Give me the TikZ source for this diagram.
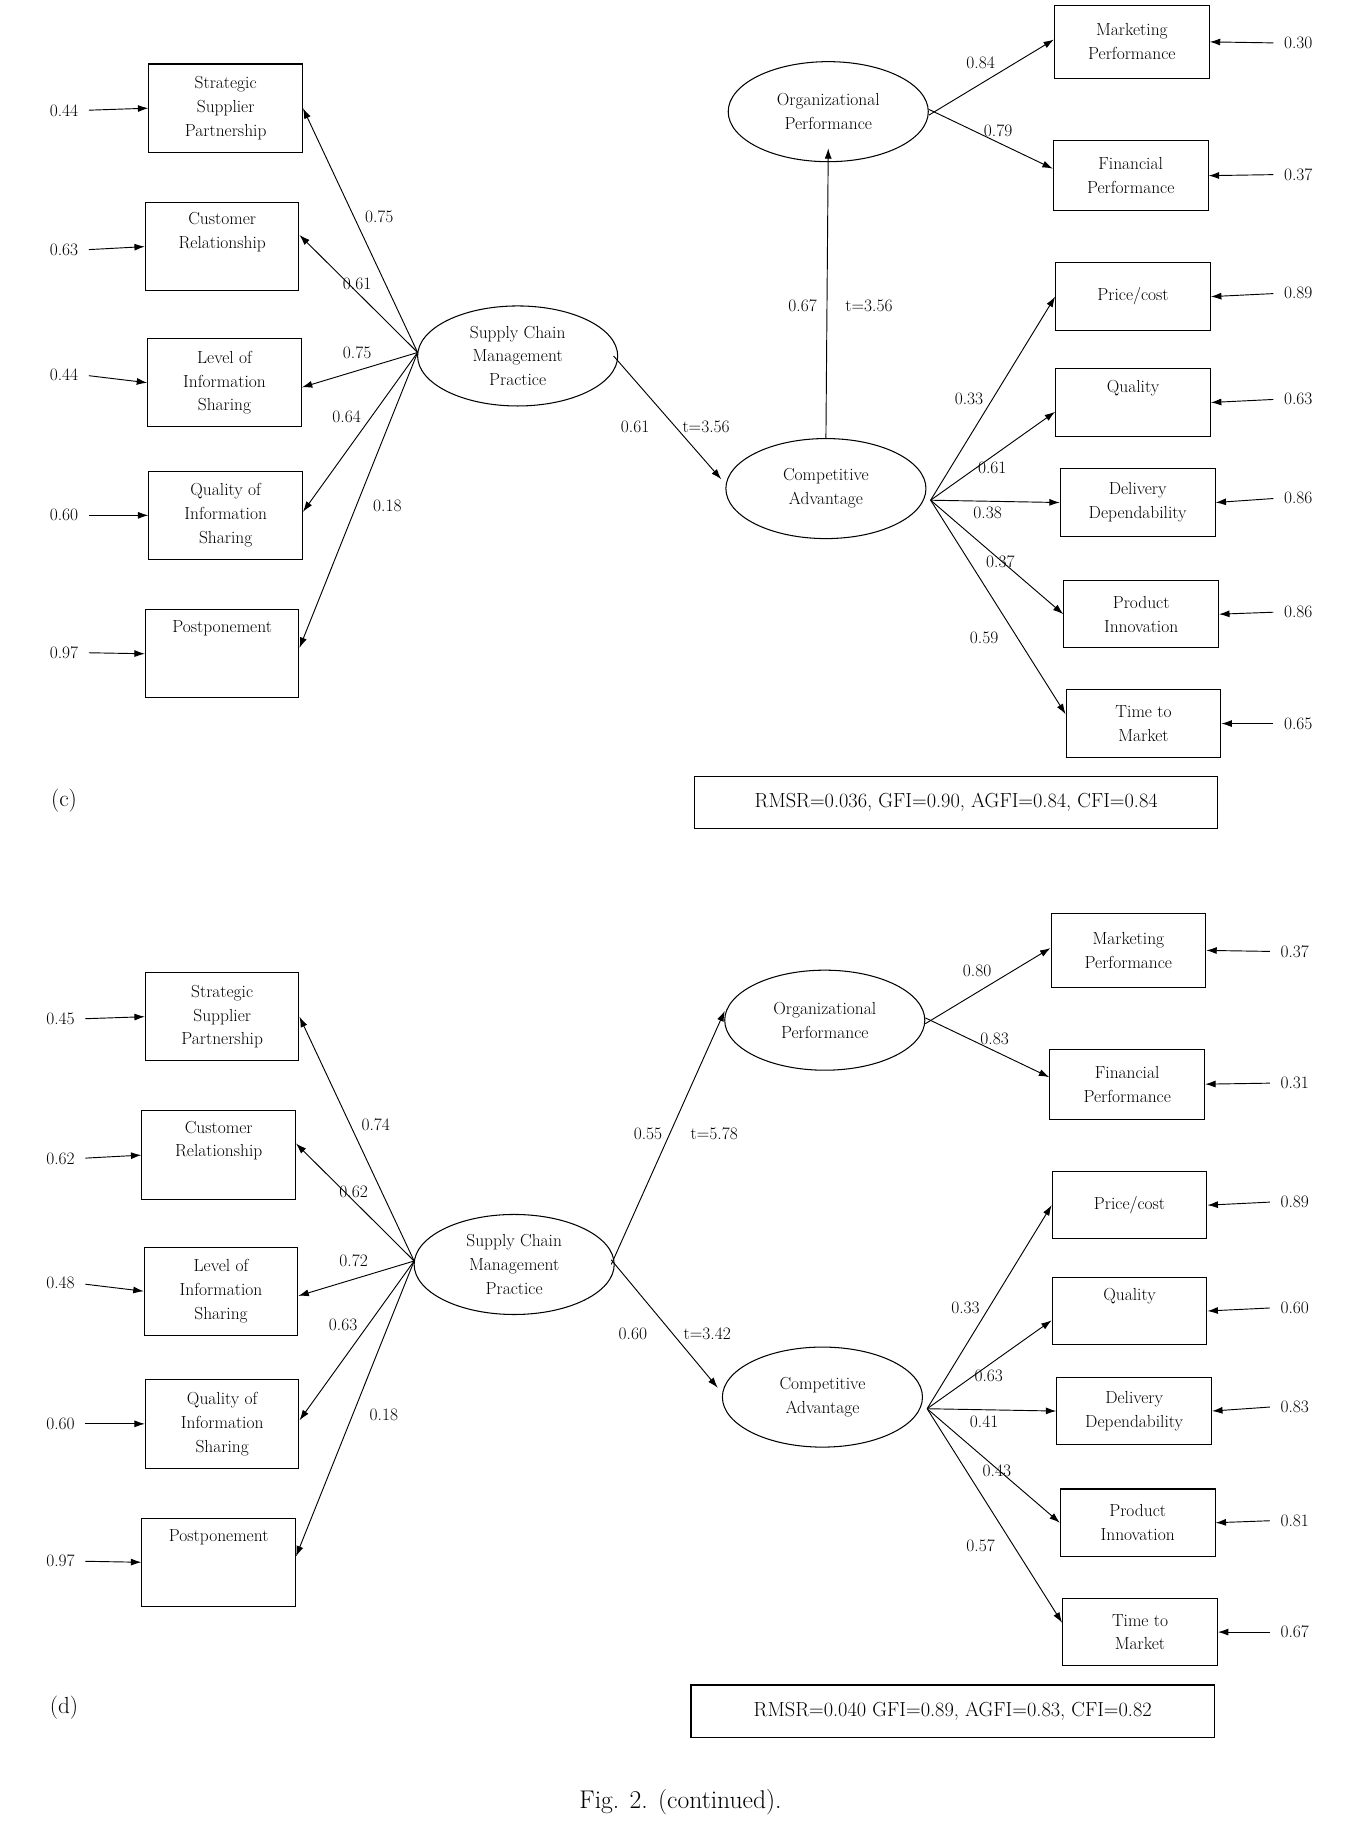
\documentclass[tikz,border=0pt]{standalone}
\usetikzlibrary{arrows.meta,shapes.geometric}
\begin{document}
\begin{tikzpicture}[x=1pt,y=-1pt,
  every node/.style={font=\fontsize{15}{20.5}\selectfont},
  box/.style={draw,line width=0.9pt,minimum width=132pt,minimum height=76pt,align=center,inner sep=1pt},
  sbox/.style={draw,line width=0.9pt,minimum width=133pt,minimum height=58pt,align=center,inner sep=1pt},
  ell/.style={draw,line width=0.9pt,ellipse,minimum width=172pt,minimum height=86pt,align=center,inner sep=0pt},
  num/.style={inner sep=1pt},
  ar/.style={-{Latex[length=9pt,width=6pt]},line width=0.8pt}]
\useasboundingbox (0,0) rectangle (1161,1568);

\newcommand{\leftside}[9]{%
  \node[box] (ssp) at (194,93) {Strategic\\Supplier\\Partnership};
  \node[box] (cr) at (191,212) {};
  \node[anchor=north,align=center] (crt) at (191,179) {Customer\\Relationship};
  \node[box] (lis) at (193,329) {Level of\\Information\\Sharing};
  \node[box] (qis) at (194,443) {Quality of\\Information\\Sharing};
  \node[box] (post) at (191,562) {};
  \node[anchor=north] (postt) at (191,530) {Postponement};
  \node[num] (e1) at (55,95) {#1};
  \node[num] (e2) at (55,215) {#2};
  \node[num] (e3) at (55,322) {#3};
  \node[num] (e4) at (55,443) {#4};
  \node[num] (e5) at (55,561) {#5};
  \foreach \e/\b in {e1/ssp,e2/cr,e3/lis,e4/qis,e5/post}{\draw[ar,shorten <=8pt] (\e.east) -- (\b.west);}
  \node[ell] (scmp) at (445,306) {Supply Chain\\Management\\Practice};
  \coordinate (sl) at (359,303);
  \draw[ar] (sl) -- (ssp.east);
  \draw[ar] (sl) -- ([yshift=10pt]cr.east);
  \draw[ar] (sl) -- ([yshift=-4pt]lis.east);
  \draw[ar] (sl) -- ([yshift=3pt]qis.east);
  \draw[ar] (sl) -- ([yshift=5pt]post.east);
  \node (l1) at (326,186) {#6};
  \node (l2) at (307,244) {#7};
  \node (l3) at (307,303) {#8};
  \node (l4) at (298,358) {#9};
}
\newcommand{\rightside}[9]{%
  \node[ell] (ca) at (710,420) {Competitive\\Advantage};
  \node[ell] (op) at (712,96) {Organizational\\Performance};
  \node[box,minimum height=63pt,minimum width=133pt] (mp) at (973,36) {Marketing\\Performance};
  \node[box,minimum height=60pt,minimum width=133pt] (fp) at (972,151) {Financial\\Performance};
  \node[sbox] (pc) at (974,255) {Price/cost};
  \node[sbox] (q) at (974,346) {};
  \node[anchor=north] (qt) at (974,323) {Quality};
  \node[sbox] (dd) at (978,432) {Delivery\\Dependability};
  \node[sbox] (pi) at (981,528) {Product\\Innovation};
  \node[sbox] (tm) at (983,622) {Time to\\Market};
  \draw[ar] ([yshift=-3pt]op.east) -- ([yshift=2pt]mp.west);
  \draw[ar] ([yshift=2pt]op.east) -- ([yshift=6pt]fp.west);
  \coordinate (cpt) at (800,430);
  \draw[ar] (cpt) -- (pc.west);
  \draw[ar] (cpt) -- ([yshift=-8pt]q.west);
  \draw[ar] (cpt) -- (dd.west);
  \draw[ar] (cpt) -- (pi.west);
  \draw[ar] (cpt) -- ([yshift=8pt]tm.west);
  \node (r1) at (843,54) {#1};
  \node (r2) at (858,112) {#2};
  \node (r3) at (833,343) {#3};
  \node (r4) at (853,402) {#4};
  \node (r5) at (849,441) {#5};
  \node (r6) at (860,483) {#6};
  \node (r7) at (846,548) {#7};
  \node[num] (f1) at (1116,37) {#8};
  \node[num] (f2) at (1116,150) {#9};
  \draw[ar,shorten <=8pt] (f1.west) -- (mp.east);
  \draw[ar,shorten <=8pt] (f2.west) -- (fp.east);
}
\newcommand{\errs}[5]{%
  \node[num] (g1) at (1116,252) {#1};
  \node[num] (g2) at (1116,343) {#2};
  \node[num] (g3) at (1116,428) {#3};
  \node[num] (g4) at (1116,526) {#4};
  \node[num] (g5) at (1116,622) {#5};
  \foreach \e/\b in {g1/pc,g2/q,g3/dd,g4/pi,g5/tm}{\draw[ar,shorten <=8pt] (\e.west) -- (\b.east);}
}

% ---------- panel (c)
\begin{scope}
\leftside{0.44}{0.63}{0.44}{0.60}{0.97}{0.75}{0.61}{0.75}{0.64}
\node (l5) at (333,435) {0.18};
\rightside{0.84}{0.79}{0.33}{0.61}{0.38}{0.37}{0.59}{0.30}{0.37}
\errs{0.89}{0.63}{0.86}{0.86}{0.65}
\draw[ar] ([xshift=-4pt]scmp.east) -- ([xshift=-90pt,yshift=8pt]ca.center);
\node (c1) at (546,367) {0.61};
\node (c2) at (607,367) {t=3.56};
\draw[ar] (ca.north) -- ([yshift=12pt]op.south);
\node (c3) at (690,263) {0.67};
\node (c4) at (747,263) {t=3.56};
\node[font=\fontsize{20}{24}\selectfont] (lc) at (55,688) {(c)};
\node[draw,line width=0.9pt,minimum width=450pt,minimum height=45pt,font=\fontsize{17.5}{22}\selectfont] (fc) at (822,690) {RMSR=0.036, GFI=0.90, AGFI=0.84, CFI=0.84};
\end{scope}

% ---------- panel (d)
\begin{scope}[shift={(-3,781)}]
\leftside{0.45}{0.62}{0.48}{0.60}{0.97}{0.74}{0.62}{0.72}{0.63}
\node (l5) at (333,435) {0.18};
\rightside{0.80}{0.83}{0.33}{0.63}{0.41}{0.43}{0.57}{0.37}{0.31}
\errs{0.89}{0.60}{0.83}{0.81}{0.67}
\draw[ar] ([xshift=-3pt]scmp.east) -- ([xshift=-86pt,yshift=8pt]op.center);
\node (d1) at (560,194) {0.55};
\node (d2) at (617,194) {t=5.78};
\draw[ar] ([xshift=-3pt,yshift=4pt]scmp.east) -- ([xshift=-90pt,yshift=8pt]ca.center);
\node (d3) at (547,366) {0.60};
\node (d4) at (611,366) {t=3.42};
\node[font=\fontsize{20}{24}\selectfont] (ld) at (58,687) {(d)};
\node[draw,line width=0.9pt,minimum width=450pt,minimum height=45pt,font=\fontsize{17.5}{22}\selectfont] (fd) at (822,690) {RMSR=0.040 GFI=0.89, AGFI=0.83, CFI=0.82};
\end{scope}

\node[font=\fontsize{22}{26}\selectfont] (cap) at (585,1549) {Fig. 2. (continued).};
\end{tikzpicture}
\end{document}
